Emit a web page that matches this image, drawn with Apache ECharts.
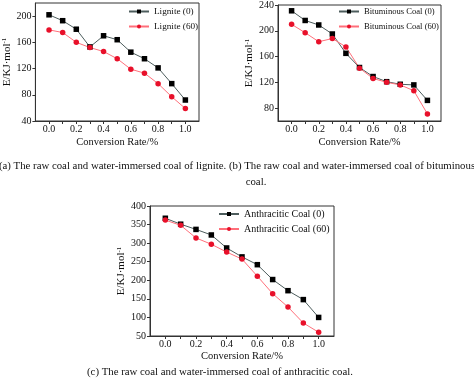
<!DOCTYPE html>
<html><head><meta charset="utf-8">
<script src="https://cdn.jsdelivr.net/npm/echarts@6/dist/echarts.min.js"></script>
<style>html,body{margin:0;padding:0;background:#fff}#c{width:474px;height:378px}</style>
</head><body><div id="c"></div>
<script>
const conversion = [0.0,0.1,0.2,0.3,0.4,0.5,0.6,0.7,0.8,0.9,1.0];
const xTickLabels = [0.0,0.2,0.4,0.6,0.8,1.0];
const ligniteRaw = [202,193,180,153,170,164,145,135,121,97,72];
const lignite60 = [179,175,160,152,146,135,119,113,97,77,59];
const bitumRaw = [231,216,209,195,165,143,129,121,117,116,92];
const bitum60 = [210,197,183,188,175,142,126,120,116,107,71];
const anthRaw = [367,351,337,322,287,263,242,202,172,148,100];
const anth60 = [362,348,314,297,276,257,211,164,128,85,60];
const yTicksA = [40,80,120,160,200];
const yTicksB = [80,120,160,200,240];
const yTicksC = [50,100,150,200,250,300,350,400];
const captionAB = "(a) The raw coal and water-immersed coal of lignite. (b) The raw coal and water-immersed coal of bituminous";
const captionAB2 = "coal.";
const captionC = "(c) The raw coal and water-immersed coal of anthracitic coal.";

const FONT = '"Liberation Serif","Times New Roman",serif';
const axisCol = '#333';
const blackLine = '#4d5d5d', blackMark = '#000';
const redLine = '#ff6f7a', redMark = '#e8102a';

function xAxis(idx, fs, labelMargin, nameGap){
  return {type:'value', gridIndex:idx, min:-0.1, max:1.1,
    axisLine:{show:true,onZero:false,lineStyle:{color:axisCol,width:1}},
    axisTick:{show:true,inside:false,length:3,customValues:conversion,lineStyle:{color:axisCol}},
    axisLabel:{customValues:xTickLabels,formatter:v=>v.toFixed(1),fontFamily:FONT,fontSize:fs,color:'#111',margin:labelMargin},
    splitLine:{show:false},
    name:'Conversion Rate/%', nameLocation:'middle', nameGap:nameGap,
    nameTextStyle:{fontFamily:FONT,fontSize:fs+0.5,color:'#111'}};
}
function yAxis(idx, min, max, ticks, fs, nameGap){
  return {type:'value', gridIndex:idx, min:min, max:max,
    axisLine:{show:true,onZero:false,lineStyle:{color:axisCol,width:1}},
    axisTick:{show:true,inside:false,length:3,customValues:ticks,lineStyle:{color:axisCol}},
    axisLabel:{customValues:ticks,fontFamily:FONT,fontSize:fs,color:'#111',margin:4},
    splitLine:{show:false},
    name:'E/KJ·mol{s|-1}', nameLocation:'middle', nameGap:nameGap, nameRotate:90,
    nameTextStyle:{fontFamily:FONT,fontSize:fs+1,color:'#111',
      rich:{s:{fontFamily:FONT,fontSize:Math.round(fs*0.65),verticalAlign:'top',color:'#111',padding:[0,0,5,0]}}}};
}
function pairs(vals){ return conversion.map((x,i)=>[x,vals[i]]); }
function series(name, vals, idx, isRed){
  return {name:name, type:'line', xAxisIndex:idx, yAxisIndex:idx, data:pairs(vals),
    symbol:isRed?'circle':'rect', symbolSize:5.5,
    lineStyle:{color:isRed?redLine:blackLine,width:1},
    itemStyle:{color:isRed?redMark:blackMark},
    animation:false};
}
function legend(names, left, top, fs, gap){
  return {data:names, left:left, top:top, orient:'vertical', itemWidth:20, itemHeight:5, itemGap:gap,
    textStyle:{fontFamily:FONT,fontSize:fs,color:'#111',padding:[0,0,0,0]}, padding:0};
}
const chart = echarts.init(document.getElementById('c'), null, {renderer:'canvas'});
chart.setOption({
  animation:false,
  grid:[
    {left:32, top:3, width:167, height:118, show:true, borderColor:axisCol, borderWidth:1},
    {left:278, top:3, width:163, height:118, show:true, borderColor:axisCol, borderWidth:1},
    {left:150, top:206, width:184, height:130, show:true, borderColor:axisCol, borderWidth:1}
  ],
  xAxis:[xAxis(0,10,3,16), xAxis(1,10,3,16), xAxis(2,10,3,15)],
  yAxis:[yAxis(0,40,220,yTicksA,10,18), yAxis(1,60,240,yTicksB,10,19), yAxis(2,50,400,yTicksC,10,20)],
  legend:[
    legend(['Lignite (0)','Lignite (60)'],128,7,9.2,6),
    legend(['Bituminous Coal (0)','Bituminous Coal (60)'],338,7,8.6,6),
    legend(['Anthracitic Coal (0)','Anthracitic Coal (60)'],218,209,10,5)
  ],
  series:[
    series('Lignite (0)',ligniteRaw,0,false), series('Lignite (60)',lignite60,0,true),
    series('Bituminous Coal (0)',bitumRaw,1,false), series('Bituminous Coal (60)',bitum60,1,true),
    series('Anthracitic Coal (0)',anthRaw,2,false), series('Anthracitic Coal (60)',anth60,2,true)
  ],
  graphic:[
    {type:'text', x:237, y:166, style:{text:captionAB, font:'10.8px '+FONT, fill:'#111', align:'center', verticalAlign:'middle'}},
    {type:'text', x:256, y:182, style:{text:captionAB2, font:'10.8px '+FONT, fill:'#111', align:'center', verticalAlign:'middle'}},
    {type:'text', x:220, y:372, style:{text:captionC, font:'10.8px '+FONT, fill:'#111', align:'center', verticalAlign:'middle'}}
  ]
});
</script></body></html>
